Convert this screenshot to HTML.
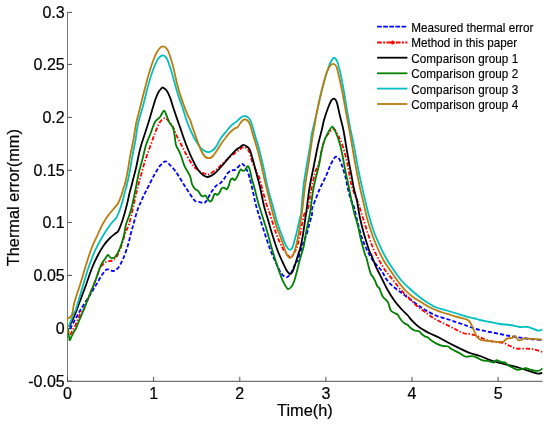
<!DOCTYPE html>
<html><head><meta charset="utf-8"><title>Thermal error</title>
<style>
html,body{margin:0;padding:0;background:#fff;}
body{width:550px;height:424px;overflow:hidden;}
svg{display:block;}
text{font-family:"Liberation Sans",sans-serif;fill:#000;}
.tk{font-size:16px;stroke:#000;stroke-width:0.2px;}
.lg{font-size:11.7px;stroke:#000;stroke-width:0.15px;}
.lb{font-size:16.35px;stroke:#000;stroke-width:0.2px;}
.c{fill:none;stroke-width:1.8;stroke-linejoin:round;stroke-linecap:butt;}
.l{fill:none;stroke-width:1.8;}
</style></head><body>
<svg width="550" height="424" viewBox="0 0 550 424">
<rect width="550" height="424" fill="#fff"/>

<g stroke="#505050" stroke-width="1" fill="none">
<path stroke="#787878" d="M67.5 11.93 V381.8"/>
<path d="M67.0 381.3 H542.6"/>
<path d="M67.5 381.3 v-4.5"/>
<path d="M153.6 381.3 v-4.5"/>
<path d="M239.8 381.3 v-4.5"/>
<path d="M325.9 381.3 v-4.5"/>
<path d="M412.0 381.3 v-4.5"/>
<path d="M498.1 381.3 v-4.5"/>
<path d="M67.5 381.1 h4.5"/>
<path d="M67.5 328.6 h4.5"/>
<path d="M67.5 275.4 h4.5"/>
<path d="M67.5 222.4 h4.5"/>
<path d="M67.5 170.3 h4.5"/>
<path d="M67.5 117.4 h4.5"/>
<path d="M67.5 64.4 h4.5"/>
<path d="M67.5 12.4 h4.5"/>
</g>
<text class="tk" x="67.5" y="398.7" text-anchor="middle">0</text>
<text class="tk" x="153.6" y="398.7" text-anchor="middle">1</text>
<text class="tk" x="239.8" y="398.7" text-anchor="middle">2</text>
<text class="tk" x="325.9" y="398.7" text-anchor="middle">3</text>
<text class="tk" x="412.0" y="398.7" text-anchor="middle">4</text>
<text class="tk" x="498.1" y="398.7" text-anchor="middle">5</text>
<text class="tk" x="64.7" y="386.9" text-anchor="end">-0.05</text>
<text class="tk" x="64.7" y="334.4" text-anchor="end">0</text>
<text class="tk" x="64.7" y="281.1" text-anchor="end">0.05</text>
<text class="tk" x="64.7" y="228.2" text-anchor="end">0.1</text>
<text class="tk" x="64.7" y="176.1" text-anchor="end">0.15</text>
<text class="tk" x="64.7" y="123.2" text-anchor="end">0.2</text>
<text class="tk" x="64.7" y="70.2" text-anchor="end">0.25</text>
<text class="tk" x="64.7" y="18.2" text-anchor="end">0.3</text>
<text class="lb" x="304.9" y="415.7" text-anchor="middle">Time(h)</text>
<text class="lb" transform="translate(18.5,197.7) rotate(-90)" text-anchor="middle">Thermal error(mm)</text>
<defs><clipPath id="cp"><rect x="67" y="11" width="475.6" height="371"/></clipPath></defs><g clip-path="url(#cp)">
<path class="c" stroke="#0000ff" stroke-dasharray="4.1 2.1" d="M70.0 329.0C70.7 327.8 72.7 324.0 74.0 321.6C75.3 319.2 76.8 316.5 78.0 314.4C79.2 312.3 79.0 312.2 81.0 309.0C83.0 305.8 87.5 299.0 90.0 295.0C92.5 291.0 94.0 288.3 96.0 285.0C98.0 281.7 100.2 277.6 102.0 275.0C103.8 272.4 105.2 270.1 107.0 269.4C108.8 268.7 111.2 271.2 113.0 271.0C114.8 270.8 116.3 270.0 118.0 268.0C119.7 266.0 121.3 262.8 123.0 259.0C124.7 255.2 126.7 249.3 128.0 245.0C129.3 240.7 130.1 236.4 131.0 233.0C131.9 229.6 132.3 228.3 133.4 224.5C134.5 220.7 136.0 214.4 137.5 210.0C139.0 205.6 140.7 202.3 142.5 198.3C144.3 194.3 146.5 190.1 148.6 186.0C150.7 181.9 152.8 177.5 154.8 174.0C156.8 170.5 158.7 167.3 160.5 165.2C162.3 163.1 164.0 161.4 165.6 161.4C167.2 161.4 168.3 163.2 170.0 165.0C171.7 166.8 174.0 169.2 176.0 172.0C178.0 174.8 180.0 178.3 182.0 181.5C184.0 184.7 185.8 187.8 188.0 191.0C190.2 194.2 193.1 199.1 195.0 200.9C196.9 202.7 198.0 201.6 199.4 202.0C200.8 202.4 202.5 203.3 203.7 203.1C204.9 202.9 205.6 202.1 206.5 200.9C207.4 199.7 208.2 197.7 209.2 196.0C210.2 194.3 211.2 192.2 212.4 190.5C213.6 188.8 215.0 186.8 216.3 185.6C217.6 184.4 218.8 184.5 220.1 183.4C221.4 182.3 222.6 180.8 223.9 179.1C225.2 177.4 226.4 174.5 227.7 173.1C229.0 171.7 230.2 170.9 231.5 170.4C232.8 169.9 234.1 170.5 235.3 169.8C236.5 169.2 237.5 167.5 238.6 166.5C239.7 165.5 240.9 163.9 241.9 163.8C242.9 163.7 243.7 164.8 244.6 166.0C245.5 167.2 246.5 169.0 247.3 170.9C248.1 172.8 248.8 174.9 249.5 177.4C250.2 179.9 251.0 183.1 251.7 186.2C252.4 189.3 253.3 193.5 253.9 196.0C254.5 198.5 254.2 198.2 255.0 201.4C255.8 204.7 257.5 210.6 259.0 215.5C260.5 220.4 262.2 225.4 264.0 231.0C265.8 236.6 268.0 243.7 270.0 249.0C272.0 254.3 274.2 259.0 276.0 263.0C277.8 267.0 279.3 270.6 281.0 273.0C282.7 275.4 284.7 277.4 286.4 277.4C288.1 277.4 289.4 275.6 291.0 273.0C292.6 270.4 294.9 264.0 296.0 262.0C297.1 260.0 296.8 262.9 297.6 260.9C298.4 258.9 299.8 253.3 300.9 250.0C302.0 246.7 303.0 243.7 304.0 241.0C305.0 238.3 306.0 236.8 306.9 233.8C307.8 230.8 308.8 226.1 309.6 222.9C310.5 219.7 311.6 216.8 312.0 214.5C312.4 212.2 311.2 211.9 312.0 209.0C312.8 206.1 315.1 200.7 316.5 197.0C317.9 193.3 319.1 190.3 320.6 187.0C322.1 183.7 324.1 180.3 325.6 177.0C327.1 173.7 328.3 170.0 329.6 167.0C330.9 164.0 332.4 160.9 333.5 159.2C334.6 157.5 335.2 156.7 336.2 156.7C337.2 156.7 338.2 157.3 339.3 159.0C340.4 160.7 341.5 164.0 342.5 167.0C343.5 170.0 344.7 173.7 345.5 177.0C346.3 180.3 346.8 183.7 347.5 187.0C348.2 190.3 349.1 194.0 350.0 197.0C350.9 200.0 352.3 203.3 353.0 205.0C353.7 206.7 353.3 204.5 354.0 207.0C354.7 209.5 355.7 214.8 357.0 220.0C358.3 225.2 360.2 232.7 362.0 238.0C363.8 243.3 366.0 248.0 368.0 252.0C370.0 256.0 371.8 259.0 374.0 262.0C376.2 265.0 378.8 267.0 381.0 270.0C383.2 273.0 384.7 277.0 387.0 280.0C389.3 283.0 392.3 285.7 395.0 288.0C397.7 290.3 400.3 292.0 403.0 294.0C405.7 296.0 408.3 298.0 411.0 300.0C413.7 302.0 416.3 304.2 419.0 306.0C421.7 307.8 424.0 309.3 427.0 311.0C430.0 312.7 433.7 314.7 437.0 316.0C440.3 317.3 443.7 317.9 447.0 319.0C450.3 320.1 454.0 321.5 457.0 322.5C460.0 323.5 462.8 324.2 465.0 325.0C467.2 325.8 467.5 326.2 470.0 327.0C472.5 327.8 476.7 329.2 480.0 330.0C483.3 330.8 486.7 331.3 490.0 332.0C493.3 332.7 496.7 333.3 500.0 334.0C503.3 334.7 506.7 335.4 510.0 336.0C513.3 336.6 516.7 337.1 520.0 337.6C523.3 338.1 526.3 338.6 530.0 339.0C533.7 339.4 540.3 339.8 542.4 340.0"/>
<path class="c" stroke="#ff0000" stroke-dasharray="4.4 1.8 1.4 1.8" d="M70.4 335.0C70.7 334.2 71.5 332.1 72.4 330.4C73.3 328.7 74.5 326.9 75.6 324.8C76.7 322.7 77.9 319.7 78.8 317.6C79.7 315.5 79.9 313.4 80.8 312.0C81.7 310.6 82.5 312.0 84.0 309.0C85.5 306.0 88.0 299.0 90.0 294.0C92.0 289.0 94.3 283.3 96.0 279.0C97.7 274.7 98.3 270.8 100.0 268.0C101.7 265.2 104.0 263.2 106.0 262.0C108.0 260.8 110.2 261.6 112.0 260.6C113.8 259.6 115.5 258.3 117.0 256.0C118.5 253.7 119.7 250.7 121.0 247.0C122.3 243.3 123.7 237.8 125.0 234.0C126.3 230.2 127.7 228.3 129.0 224.0C130.3 219.7 131.7 213.7 133.0 208.0C134.3 202.3 135.8 194.8 137.0 190.0C138.2 185.2 138.7 183.8 140.0 179.0C141.3 174.2 143.3 166.3 145.0 161.0C146.7 155.7 148.3 151.7 150.0 147.0C151.7 142.3 153.3 137.2 155.0 133.0C156.7 128.8 158.3 124.5 160.0 122.0C161.7 119.5 163.6 118.2 165.0 118.0C166.4 117.8 167.4 119.8 168.6 121.0C169.8 122.2 171.1 124.2 171.9 125.3C172.7 126.4 172.5 125.8 173.3 127.5C174.1 129.2 175.2 132.6 176.5 135.3C177.8 138.1 179.4 141.1 180.9 144.0C182.4 146.9 183.9 150.0 185.3 152.7C186.8 155.4 188.4 158.3 189.6 160.3C190.8 162.3 191.5 163.4 192.4 164.7C193.3 165.9 193.7 166.7 195.0 167.8C196.3 168.9 198.4 170.5 200.0 171.5C201.6 172.5 203.4 173.1 204.8 173.6C206.2 174.1 207.2 174.8 208.6 174.4C210.0 174.1 211.9 172.5 213.5 171.5C215.1 170.5 216.6 169.4 218.0 168.2C219.4 166.9 220.2 165.7 222.0 164.0C223.8 162.3 226.7 159.8 229.0 157.8C231.3 155.9 234.2 153.7 236.0 152.3C237.8 150.9 238.8 150.2 240.0 149.3C241.2 148.5 242.3 147.3 243.5 147.2C244.7 147.1 246.0 147.6 247.0 148.5C248.0 149.4 248.9 151.1 249.5 152.5C250.1 153.9 250.2 155.2 250.8 157.0C251.4 158.8 251.9 161.2 252.8 163.4C253.7 165.7 255.0 168.3 256.0 170.5C257.0 172.7 257.9 173.6 259.0 176.8C260.1 180.1 261.2 185.1 262.5 190.0C263.8 194.9 265.9 202.3 267.0 206.0C268.1 209.7 267.8 207.5 269.3 212.0C270.8 216.5 273.9 227.2 276.0 233.0C278.1 238.8 280.3 243.7 282.0 247.0C283.7 250.3 284.7 251.3 286.0 253.0C287.3 254.7 288.7 257.0 290.0 257.0C291.3 257.0 292.8 254.7 294.0 253.0C295.2 251.3 296.0 250.0 297.0 247.0C298.0 244.0 298.8 240.3 300.0 235.0C301.2 229.7 302.7 219.3 304.0 215.0C305.3 210.7 306.8 213.0 308.0 209.0C309.2 205.0 309.8 197.0 311.0 191.0C312.2 185.0 313.7 177.7 315.0 173.0C316.3 168.3 317.8 167.0 319.0 163.0C320.2 159.0 321.0 153.0 322.0 149.0C323.0 145.0 323.8 141.7 325.0 139.0C326.2 136.3 327.5 134.7 329.0 133.0C330.5 131.3 332.3 128.3 334.0 129.0C335.7 129.7 337.5 134.0 339.0 137.0C340.5 140.0 341.8 143.2 343.0 147.0C344.2 150.8 345.6 156.0 346.5 160.0C347.4 164.0 347.9 166.8 348.7 171.0C349.5 175.2 350.4 181.2 351.4 185.0C352.4 188.8 353.6 191.5 354.5 194.0C355.4 196.5 356.3 198.3 357.0 200.0C357.7 201.7 357.6 201.0 358.6 204.0C359.6 207.0 361.4 213.0 363.0 218.0C364.6 223.0 366.3 229.0 368.0 234.0C369.7 239.0 371.2 243.7 373.0 248.0C374.8 252.3 377.0 256.3 379.0 260.0C381.0 263.7 382.7 266.7 385.0 270.0C387.3 273.3 390.3 276.7 393.0 280.0C395.7 283.3 398.3 287.0 401.0 290.0C403.7 293.0 406.3 295.3 409.0 298.0C411.7 300.7 414.3 303.7 417.0 306.0C419.7 308.3 422.0 309.8 425.0 312.0C428.0 314.2 431.7 317.0 435.0 319.0C438.3 321.0 441.7 322.3 445.0 324.0C448.3 325.7 452.0 327.5 455.0 329.0C458.0 330.5 459.8 332.0 463.0 333.0C466.2 334.0 470.5 334.0 474.0 335.0C477.5 336.0 481.0 337.9 484.0 339.0C487.0 340.1 488.7 340.7 492.0 341.4C495.3 342.1 501.0 342.2 504.0 343.0C507.0 343.8 508.0 345.1 510.0 346.0C512.0 346.9 513.3 348.2 516.0 348.6C518.7 349.0 523.0 348.5 526.0 348.6C529.0 348.7 531.3 348.8 534.0 349.4C536.7 350.0 541.0 351.6 542.4 352.0"/>
<path class="c" stroke="#000000" d="M69.0 327.0C69.7 325.7 71.8 321.5 73.0 319.0C74.2 316.5 74.8 315.0 76.0 312.0C77.2 309.0 78.3 305.5 80.0 301.0C81.7 296.5 84.0 290.5 86.0 285.0C88.0 279.5 90.0 273.0 92.0 268.0C94.0 263.0 96.0 258.8 98.0 255.0C100.0 251.2 102.0 247.8 104.0 245.0C106.0 242.2 108.0 240.0 110.0 238.0C112.0 236.0 114.6 234.2 116.0 233.0C117.4 231.8 117.4 232.8 118.4 230.8C119.5 228.8 121.1 224.4 122.3 221.0C123.5 217.6 124.6 213.4 125.5 210.1C126.4 206.8 127.0 204.5 127.7 201.4C128.4 198.3 129.2 194.2 129.9 191.5C130.6 188.8 131.0 187.7 131.6 185.5C132.2 183.3 132.6 181.2 133.4 178.2C134.2 175.2 135.3 171.3 136.2 167.3C137.1 163.3 138.0 158.1 138.9 154.2C139.8 150.3 140.3 147.9 141.5 144.0C142.7 140.1 144.4 135.1 145.9 130.5C147.4 125.9 148.8 121.5 150.3 116.4C151.9 111.3 153.8 104.0 155.2 100.0C156.6 96.0 157.5 94.1 158.5 92.2C159.5 90.3 160.2 89.6 161.0 88.8C161.8 88.0 162.0 87.2 163.0 87.6C164.0 88.0 165.8 89.2 167.0 91.0C168.2 92.8 169.3 95.5 170.3 98.1C171.3 100.7 172.0 103.7 173.0 106.8C174.0 109.9 175.3 113.7 176.3 116.6C177.3 119.5 178.2 122.1 179.0 124.3C179.8 126.5 180.1 127.3 181.0 130.0C181.9 132.7 183.4 137.3 184.7 140.7C185.9 144.1 187.2 147.4 188.5 150.5C189.8 153.6 191.2 156.8 192.4 159.3C193.6 161.9 194.5 163.9 195.6 165.8C196.7 167.8 197.8 169.5 199.0 171.0C200.2 172.5 201.5 174.0 203.0 175.0C204.5 176.0 206.2 177.2 208.0 177.0C209.8 176.8 212.0 175.5 214.0 174.0C216.0 172.5 218.0 170.2 220.0 168.0C222.0 165.8 224.0 163.3 226.0 161.0C228.0 158.7 230.3 155.8 232.0 154.0C233.7 152.2 234.6 151.2 236.0 150.0C237.4 148.8 239.1 147.9 240.3 147.0C241.5 146.1 242.2 144.9 243.3 144.8C244.4 144.7 245.8 145.8 246.8 146.5C247.8 147.2 248.7 147.7 249.5 149.2C250.3 150.7 251.0 153.3 251.7 155.7C252.4 158.1 253.2 160.7 253.9 163.4C254.6 166.1 255.4 169.3 256.1 172.1C256.8 174.9 257.5 177.1 258.3 180.3C259.1 183.5 260.1 187.2 261.0 191.5C261.9 195.8 262.9 201.6 264.0 206.0C265.1 210.4 266.2 213.7 267.5 218.0C268.8 222.3 269.9 226.8 271.5 232.0C273.1 237.2 275.1 243.8 277.0 249.0C278.9 254.2 281.3 259.3 283.0 263.0C284.7 266.7 285.8 269.2 287.0 271.0C288.2 272.8 289.1 273.8 290.0 274.0C290.9 274.2 291.4 273.8 292.2 272.4C293.0 270.9 294.0 267.8 294.9 265.3C295.8 262.8 296.4 260.1 297.3 257.2C298.2 254.3 299.3 251.9 300.3 248.0C301.3 244.1 302.4 238.0 303.1 233.8C303.8 229.6 304.2 226.5 304.7 222.9C305.2 219.3 305.9 214.8 306.3 212.0C306.7 209.2 306.4 210.5 307.0 206.0C307.6 201.5 308.8 191.8 310.0 185.0C311.2 178.2 312.7 171.7 314.0 165.0C315.3 158.3 316.7 151.0 318.0 145.0C319.3 139.0 321.0 133.2 322.0 129.0C323.0 124.8 323.0 123.5 324.0 120.0C325.0 116.5 326.8 111.2 328.0 108.0C329.2 104.8 330.2 102.5 331.0 101.0C331.8 99.5 332.0 99.7 332.5 99.3C333.0 98.9 333.5 98.5 334.0 98.6C334.5 98.7 335.0 99.1 335.5 99.8C336.0 100.5 336.2 100.3 337.0 103.0C337.8 105.7 339.0 111.8 340.0 116.0C341.0 120.2 342.2 124.2 343.0 128.0C343.8 131.8 344.2 134.2 345.0 139.0C345.8 143.8 347.0 151.3 348.0 157.0C349.0 162.7 350.0 167.7 351.0 173.0C352.0 178.3 353.0 184.3 354.0 189.0C355.0 193.7 356.0 196.2 357.0 201.0C358.0 205.8 358.8 212.5 360.0 218.0C361.2 223.5 362.5 228.7 364.0 234.0C365.5 239.3 367.8 246.4 369.0 250.0C370.2 253.6 370.4 252.5 371.5 255.3C372.6 258.1 374.3 263.0 375.9 266.6C377.5 270.2 379.2 273.2 381.0 276.8C382.8 280.4 384.6 284.6 386.8 288.5C389.0 292.4 391.7 296.9 394.1 300.3C396.5 303.7 399.1 306.5 401.4 309.0C403.7 311.5 406.3 313.8 407.9 315.5C409.5 317.2 409.1 317.6 411.0 319.5C412.9 321.4 416.0 324.8 419.0 327.0C422.0 329.2 425.7 331.2 429.0 333.0C432.3 334.8 435.7 335.8 439.0 337.5C442.3 339.2 445.7 341.2 449.0 343.0C452.3 344.8 455.5 346.3 459.0 348.0C462.5 349.7 466.5 351.7 470.0 353.0C473.5 354.3 476.7 354.8 480.0 356.0C483.3 357.2 486.7 358.8 490.0 360.0C493.3 361.2 496.7 362.1 500.0 363.0C503.3 363.9 506.7 364.6 510.0 365.4C513.3 366.2 516.7 367.0 520.0 368.0C523.3 369.0 527.0 370.5 530.0 371.4C533.0 372.3 535.9 373.4 538.0 373.6C540.1 373.8 541.7 372.8 542.4 372.6"/>
<path class="c" stroke="#008000" d="M68.0 328.0C68.3 330.0 69.0 338.4 69.6 339.8C70.2 341.2 70.8 337.8 71.5 336.5C72.2 335.2 73.0 333.4 73.8 332.0C74.6 330.6 75.3 329.9 76.2 328.0C77.1 326.1 78.1 323.1 79.2 320.4C80.3 317.7 82.0 313.9 82.8 312.0C83.6 310.1 82.8 312.0 84.0 309.0C85.2 306.0 88.0 299.0 90.0 294.0C92.0 289.0 94.2 283.8 96.0 279.0C97.8 274.2 99.5 268.3 101.0 265.0C102.5 261.7 103.8 260.7 105.0 259.0C106.2 257.3 107.0 255.2 108.0 255.0C109.0 254.8 109.8 257.7 111.0 258.0C112.2 258.3 113.5 258.7 115.0 257.0C116.5 255.3 118.5 251.7 120.0 248.0C121.5 244.3 123.0 238.9 124.0 235.0C125.0 231.1 124.8 228.7 126.0 224.5C127.2 220.3 129.5 215.4 131.0 210.0C132.5 204.6 133.7 198.3 135.0 192.0C136.3 185.7 137.8 177.2 139.0 172.0C140.2 166.8 140.8 165.5 142.0 161.0C143.2 156.5 144.7 149.3 146.0 145.0C147.3 140.7 148.5 138.8 150.0 135.0C151.5 131.2 153.3 125.0 155.0 122.0C156.7 119.0 158.5 118.9 160.0 117.0C161.5 115.1 162.9 110.8 164.0 110.6C165.1 110.3 165.6 113.6 166.5 115.5C167.4 117.4 168.4 120.4 169.2 122.1C170.0 123.8 170.8 124.4 171.5 125.5C172.2 126.6 172.7 126.7 173.3 128.7C173.9 130.7 174.5 134.7 174.9 137.4C175.3 140.1 175.3 142.6 176.0 145.0C176.7 147.4 178.4 149.6 179.3 151.6C180.2 153.6 180.8 155.0 181.5 157.0C182.2 159.0 182.9 161.8 183.6 163.6C184.3 165.4 184.4 165.9 185.5 168.0C186.6 170.1 188.9 173.3 190.0 176.0C191.1 178.7 191.2 181.8 192.0 184.0C192.8 186.2 193.9 187.7 195.0 188.9C196.1 190.1 197.3 190.0 198.3 191.1C199.3 192.2 200.2 194.5 201.0 195.4C201.8 196.3 202.5 196.5 203.2 196.5C203.9 196.5 204.7 195.0 205.4 195.4C206.1 195.8 206.8 197.7 207.5 198.7C208.2 199.7 209.0 201.1 209.7 201.4C210.4 201.7 211.1 201.6 211.9 200.3C212.7 199.0 213.7 194.7 214.6 193.8C215.5 192.9 216.6 195.1 217.4 194.9C218.2 194.7 218.8 193.8 219.5 192.7C220.2 191.6 220.9 189.2 221.7 188.4C222.5 187.6 223.6 187.6 224.4 187.8C225.2 188.0 225.9 189.8 226.6 189.4C227.3 189.0 228.2 187.1 228.8 185.6C229.4 184.1 229.8 181.4 230.4 180.2C231.0 179.0 231.9 178.5 232.6 178.5C233.3 178.5 234.1 180.5 234.8 180.2C235.5 179.9 236.3 178.3 237.0 176.9C237.7 175.5 238.6 173.3 239.2 172.0C239.8 170.7 240.2 169.5 240.8 169.3C241.4 169.1 242.3 170.8 243.0 170.9C243.7 171.0 244.6 170.4 245.2 169.8C245.8 169.2 246.3 167.7 246.8 167.1C247.3 166.5 247.9 165.9 248.4 166.5C248.9 167.1 249.6 168.9 250.1 170.9C250.6 172.9 251.1 176.0 251.7 178.5C252.3 181.0 252.8 181.9 253.9 185.8C255.0 189.7 256.6 197.1 258.0 202.0C259.4 206.9 260.5 210.2 262.0 215.0C263.5 219.8 265.3 225.3 267.0 231.0C268.7 236.7 270.3 243.3 272.0 249.0C273.7 254.7 275.3 260.0 277.0 265.0C278.7 270.0 280.7 275.7 282.0 279.0C283.3 282.3 284.0 283.3 285.0 285.0C286.0 286.7 286.9 288.8 288.0 289.0C289.1 289.2 290.5 287.9 291.6 286.5C292.7 285.1 293.5 283.1 294.4 280.5C295.3 277.9 296.2 274.1 297.1 270.7C298.0 267.2 298.7 263.8 299.8 259.8C300.9 255.8 302.6 251.2 303.6 246.9C304.6 242.6 305.1 237.8 305.8 233.8C306.5 229.8 307.3 226.5 308.0 222.9C308.7 219.3 309.4 217.3 310.2 212.0C311.0 206.7 312.0 196.8 313.0 191.0C314.0 185.2 315.0 181.3 316.0 177.0C317.0 172.7 318.0 169.7 319.0 165.0C320.0 160.3 321.0 153.3 322.0 149.0C323.0 144.7 323.8 142.0 325.0 139.0C326.2 136.0 327.8 133.1 329.0 131.0C330.2 128.9 331.2 126.3 332.4 126.6C333.6 126.9 334.9 130.6 336.0 133.0C337.1 135.4 338.0 137.7 339.0 141.0C340.0 144.3 341.0 148.3 342.0 153.0C343.0 157.7 344.0 164.0 345.0 169.0C346.0 174.0 347.0 178.2 348.0 183.0C349.0 187.8 350.0 193.2 351.0 198.0C352.0 202.8 352.8 207.3 354.0 212.0C355.2 216.7 356.8 221.3 358.0 226.0C359.2 230.7 359.8 235.2 361.0 240.0C362.2 244.8 364.1 251.5 365.0 254.5C365.9 257.5 365.9 255.9 366.5 257.9C367.1 259.9 367.9 263.8 368.6 266.5C369.3 269.2 370.1 272.1 370.8 273.9C371.5 275.6 372.3 275.8 373.0 277.0C373.7 278.2 374.5 279.7 375.2 281.2C375.9 282.7 376.5 284.8 377.2 286.0C377.9 287.2 378.8 287.3 379.5 288.5C380.2 289.7 380.6 291.8 381.2 293.2C381.8 294.6 382.4 296.1 383.2 297.2C384.0 298.3 385.1 298.8 386.0 299.8C386.9 300.8 387.7 301.6 388.3 303.0C388.9 304.4 389.3 306.7 389.8 308.0C390.3 309.3 390.5 310.2 391.2 311.0C391.9 311.8 392.9 312.1 394.0 312.7C395.1 313.3 396.9 313.9 397.7 314.6C398.5 315.3 398.4 315.9 399.0 316.9C399.6 317.9 400.6 319.4 401.5 320.5C402.4 321.6 403.5 322.6 404.5 323.3C405.5 324.0 406.5 324.1 407.5 324.8C408.5 325.6 409.2 326.9 410.4 327.8C411.6 328.8 413.2 329.9 414.7 330.5C416.1 331.1 417.9 330.7 419.1 331.3C420.3 331.9 421.0 333.5 422.0 334.3C423.0 335.1 423.9 335.9 424.9 336.4C425.9 336.9 427.0 336.8 428.0 337.4C429.0 338.0 429.3 339.0 430.7 340.0C432.1 341.0 434.6 342.6 436.5 343.6C438.4 344.6 440.4 345.3 442.4 345.8C444.3 346.3 446.8 346.0 448.2 346.5C449.6 347.0 449.9 348.1 451.0 348.8C452.1 349.5 453.5 350.1 455.0 350.9C456.5 351.7 458.5 352.6 460.2 353.5C461.9 354.4 463.4 356.2 465.4 356.6C467.4 357.0 470.3 355.9 472.3 356.1C474.3 356.3 475.8 357.2 477.5 357.9C479.2 358.6 480.6 359.8 482.6 360.4C484.6 361.0 487.6 360.9 489.5 361.3C491.4 361.7 492.7 362.7 493.9 362.5C495.1 362.3 495.2 360.2 496.5 360.1C497.8 360.1 500.2 361.8 501.6 362.2C503.0 362.6 504.0 361.9 505.1 362.5C506.2 363.1 507.1 364.7 508.5 365.6C509.9 366.6 512.1 367.5 513.7 368.2C515.3 368.9 516.7 369.8 518.0 369.9C519.3 370.0 520.2 369.4 521.5 369.1C522.8 368.8 524.2 368.1 525.8 368.2C527.4 368.3 529.3 369.6 531.0 370.0C532.7 370.4 534.8 370.7 536.2 370.8C537.6 370.9 538.5 370.9 539.6 370.5C540.7 370.1 542.2 368.6 542.7 368.2"/>
<path class="c" stroke="#00bfbf" d="M68.4 327.0C68.8 326.0 69.9 323.3 70.8 321.0C71.7 318.7 73.1 315.0 74.0 313.0C74.9 311.0 74.7 313.0 76.0 309.0C77.3 305.0 80.0 295.7 82.0 289.0C84.0 282.3 86.0 275.0 88.0 269.0C90.0 263.0 92.0 257.7 94.0 253.0C96.0 248.3 98.0 244.7 100.0 241.0C102.0 237.3 104.0 234.0 105.9 231.0C107.8 228.0 109.7 225.4 111.4 223.2C113.1 221.0 114.8 220.1 116.3 217.7C117.8 215.3 119.0 211.9 120.1 209.0C121.2 206.1 122.0 203.2 122.8 200.3C123.6 197.4 124.3 194.0 125.0 191.5C125.7 189.0 126.0 188.6 126.7 185.5C127.5 182.4 128.6 177.5 129.5 172.7C130.4 167.8 131.3 161.8 132.3 156.4C133.3 151.0 134.6 145.4 135.5 140.0C136.4 134.6 136.8 129.7 138.0 124.0C139.2 118.3 141.3 112.3 143.0 106.0C144.7 99.7 146.3 92.0 148.0 86.0C149.7 80.0 151.3 74.5 153.0 70.0C154.7 65.5 156.3 61.4 158.0 59.0C159.7 56.6 161.5 55.4 163.0 55.4C164.5 55.4 165.7 56.6 167.0 59.0C168.3 61.4 169.6 65.7 171.0 70.0C172.4 74.3 174.0 80.7 175.2 85.0C176.4 89.3 177.2 92.3 178.4 95.9C179.6 99.5 181.0 102.9 182.3 106.8C183.6 110.7 184.9 115.6 186.2 119.3C187.5 123.0 188.6 126.0 190.0 129.2C191.4 132.4 192.9 135.7 194.5 138.5C196.1 141.3 197.8 144.2 199.4 146.2C201.0 148.2 202.2 149.5 203.8 150.5C205.4 151.5 207.1 152.3 208.7 152.2C210.2 152.1 211.7 151.1 213.1 150.0C214.5 148.9 215.7 147.5 216.9 145.6C218.1 143.7 219.0 141.0 220.5 138.7C222.0 136.4 224.0 134.0 225.8 131.8C227.6 129.6 229.6 127.1 231.4 125.4C233.2 123.7 235.2 122.8 236.8 121.4C238.4 120.1 240.0 118.2 241.2 117.3C242.4 116.4 242.9 116.3 243.9 116.2C244.9 116.1 246.1 116.1 247.2 116.8C248.3 117.5 249.5 118.6 250.4 120.3C251.3 122.0 251.9 124.4 252.6 126.8C253.3 129.2 254.1 131.8 254.8 134.4C255.5 137.0 256.4 140.2 257.0 142.1C257.6 144.0 257.6 143.1 258.3 145.9C259.1 148.7 260.5 154.8 261.5 159.0C262.5 163.2 263.5 167.4 264.3 171.0C265.1 174.6 265.4 177.3 266.2 180.8C267.0 184.3 267.7 187.4 268.9 192.0C270.1 196.6 272.1 203.3 273.5 208.5C274.9 213.7 276.1 218.7 277.4 222.9C278.7 227.1 280.0 230.4 281.3 233.8C282.6 237.2 284.0 241.2 285.1 243.6C286.2 246.0 287.0 247.5 287.8 248.5C288.6 249.5 289.3 249.7 290.0 249.6C290.7 249.5 291.4 249.7 292.2 248.0C293.0 246.3 294.0 242.6 294.9 239.3C295.8 236.0 296.8 231.9 297.6 228.4C298.4 224.9 299.2 221.2 299.8 218.5C300.4 215.8 300.6 217.6 301.2 212.0C301.8 206.4 302.6 193.5 303.6 185.0C304.7 176.5 306.3 168.0 307.5 161.0C308.7 154.0 309.9 147.5 310.6 143.0C311.3 138.5 310.9 138.5 311.8 134.0C312.7 129.5 314.6 122.0 316.0 116.0C317.4 110.0 318.7 103.7 320.0 98.0C321.3 92.3 322.5 87.3 324.0 82.0C325.5 76.7 327.7 69.7 329.0 66.0C330.3 62.3 331.1 61.4 332.0 60.0C332.9 58.6 333.4 57.8 334.1 57.7C334.8 57.6 335.4 58.8 336.0 59.5C336.6 60.2 336.8 60.3 337.4 62.0C338.0 63.7 338.9 67.3 339.5 69.6C340.1 71.9 340.2 72.3 341.0 76.0C341.8 79.7 343.0 86.3 344.0 92.0C345.0 97.7 346.0 104.2 347.0 110.0C348.0 115.8 349.0 121.8 350.0 127.0C351.0 132.2 352.0 136.0 353.0 141.0C354.0 146.0 355.0 151.7 356.0 157.0C357.0 162.3 358.0 168.0 359.0 173.0C360.0 178.0 361.0 182.6 362.0 187.0C363.0 191.4 363.8 194.7 365.0 199.5C366.2 204.3 367.5 210.6 369.0 216.0C370.5 221.4 372.2 227.0 374.0 232.0C375.8 237.0 378.0 241.7 380.0 246.0C382.0 250.3 383.8 254.2 386.0 258.0C388.2 261.8 390.5 265.3 393.0 269.0C395.5 272.7 398.3 276.8 401.0 280.0C403.7 283.2 406.3 285.5 409.0 288.0C411.7 290.5 414.3 292.8 417.0 295.0C419.7 297.2 422.0 299.0 425.0 301.0C428.0 303.0 431.7 305.5 435.0 307.0C438.3 308.5 441.7 309.0 445.0 310.0C448.3 311.0 451.7 312.0 455.0 313.0C458.3 314.0 461.7 315.3 465.0 316.2C468.3 317.1 472.5 317.9 475.0 318.5C477.5 319.1 477.5 319.4 480.0 320.0C482.5 320.6 486.7 321.3 490.0 322.0C493.3 322.7 496.7 323.5 500.0 324.0C503.3 324.5 506.7 324.5 510.0 325.0C513.3 325.5 517.0 326.7 520.0 327.0C523.0 327.3 525.0 326.4 528.0 327.0C531.0 327.6 535.6 330.2 538.0 330.6C540.4 331.0 541.7 329.6 542.4 329.4"/>
<path class="c" stroke="#b97d0e" d="M67.3 334.0C67.3 331.6 66.9 322.2 67.3 319.5C67.7 316.8 68.6 318.6 69.4 317.8C70.2 317.0 71.2 316.8 72.0 314.5C72.8 312.2 73.3 306.9 74.0 304.0C74.7 301.1 75.0 300.2 76.0 297.0C77.0 293.8 78.3 290.3 80.0 285.0C81.7 279.7 84.0 271.3 86.0 265.0C88.0 258.7 90.0 252.2 92.0 247.0C94.0 241.8 96.8 236.7 98.0 234.0C99.2 231.3 98.6 232.4 99.4 230.8C100.2 229.2 101.1 226.9 102.6 224.3C104.0 221.8 106.3 218.1 108.1 215.5C109.9 212.9 111.9 211.0 113.5 209.0C115.1 207.0 116.6 205.7 117.9 203.5C119.2 201.3 120.3 198.4 121.2 195.9C122.1 193.4 122.8 190.1 123.4 188.3C124.0 186.5 124.0 187.6 124.7 185.0C125.4 182.4 126.5 177.5 127.4 172.7C128.3 167.9 129.1 161.8 130.1 156.4C131.1 151.0 132.4 145.4 133.4 140.0C134.4 134.6 134.9 129.3 136.0 124.0C137.1 118.7 138.5 114.0 140.0 108.0C141.5 102.0 143.3 94.3 145.0 88.0C146.7 81.7 148.3 75.3 150.0 70.0C151.7 64.7 153.5 59.5 155.0 56.0C156.5 52.5 157.7 50.6 159.0 49.0C160.3 47.4 161.7 46.4 163.0 46.4C164.3 46.4 165.8 47.4 167.0 49.0C168.2 50.6 169.0 53.2 170.0 56.0C171.0 58.8 171.8 61.2 173.0 66.0C174.2 70.8 176.1 80.0 177.4 85.0C178.7 90.0 179.4 92.3 180.6 95.9C181.8 99.5 183.1 103.3 184.4 106.8C185.7 110.2 187.3 114.4 188.3 116.6C189.3 118.8 189.3 117.8 190.2 120.0C191.0 122.2 192.2 126.4 193.4 129.8C194.6 133.2 196.0 137.2 197.3 140.7C198.6 144.1 199.8 147.9 201.1 150.5C202.4 153.1 203.6 155.2 204.9 156.5C206.2 157.8 207.4 158.2 208.7 158.2C210.0 158.2 211.1 157.8 212.5 156.5C213.9 155.2 215.4 152.7 216.9 150.5C218.4 148.3 219.9 145.7 221.4 143.5C222.9 141.3 224.3 139.4 225.8 137.5C227.3 135.6 228.8 133.7 230.3 132.2C231.8 130.7 233.4 129.2 234.6 128.4C235.8 127.6 236.5 128.2 237.4 127.4C238.3 126.6 239.2 124.7 240.1 123.5C241.0 122.3 241.9 121.0 242.8 120.3C243.7 119.6 244.6 119.3 245.5 119.5C246.4 119.7 247.5 120.4 248.3 121.4C249.1 122.4 249.7 123.7 250.4 125.7C251.1 127.7 251.9 131.0 252.6 133.4C253.3 135.8 253.9 137.8 254.6 140.0C255.3 142.2 255.7 143.3 256.6 146.5C257.5 149.7 258.9 154.9 259.9 159.0C260.9 163.1 261.8 167.4 262.6 171.0C263.4 174.6 263.9 177.0 264.8 180.8C265.7 184.6 266.7 188.8 268.0 194.0C269.3 199.2 271.1 206.6 272.5 212.0C273.9 217.4 275.3 222.7 276.4 226.2C277.5 229.7 277.7 229.5 279.0 233.0C280.3 236.5 282.7 243.3 284.0 247.0C285.3 250.7 286.0 253.2 287.0 255.0C288.0 256.8 288.8 258.3 290.0 258.0C291.2 257.7 292.7 256.5 294.0 253.0C295.3 249.5 296.7 243.8 298.0 237.0C299.3 230.2 300.8 220.7 302.0 212.0C303.2 203.3 304.0 193.5 305.2 185.0C306.4 176.5 307.9 168.7 309.0 161.0C310.1 153.3 311.2 145.0 312.1 139.0C313.1 133.0 314.0 128.8 314.7 125.0C315.4 121.2 315.2 120.9 316.1 116.0C317.1 111.1 319.1 101.3 320.4 95.8C321.7 90.2 322.6 86.7 323.7 82.7C324.8 78.7 325.9 74.7 327.0 71.8C328.1 68.9 329.2 66.9 330.3 65.6C331.4 64.3 332.3 63.7 333.3 63.8C334.3 63.9 335.5 64.7 336.3 66.4C337.1 68.1 337.7 71.1 338.4 74.0C339.1 76.9 339.9 80.3 340.6 83.8C341.3 87.2 341.9 90.0 342.8 94.7C343.7 99.4 345.0 106.5 346.0 112.0C347.0 117.5 348.2 123.5 349.0 128.0C349.8 132.5 350.2 134.2 351.0 139.0C351.8 143.8 353.0 151.3 354.0 157.0C355.0 162.7 356.0 167.8 357.0 173.0C358.0 178.2 359.0 183.4 360.0 188.0C361.0 192.6 361.8 195.5 363.0 200.5C364.2 205.5 365.5 212.4 367.0 218.0C368.5 223.6 370.2 228.8 372.0 234.0C373.8 239.2 376.0 244.5 378.0 249.0C380.0 253.5 382.0 257.5 384.0 261.0C386.0 264.5 387.8 266.8 390.0 270.0C392.2 273.2 394.5 276.7 397.0 280.0C399.5 283.3 402.3 287.2 405.0 290.0C407.7 292.8 410.3 295.0 413.0 297.0C415.7 299.0 418.0 300.2 421.0 302.0C424.0 303.8 427.7 306.3 431.0 308.0C434.3 309.7 437.7 310.8 441.0 312.0C444.3 313.2 448.7 314.3 451.0 315.0C453.3 315.7 453.5 315.9 455.0 316.4C456.5 316.8 458.3 317.3 460.0 317.7C461.7 318.1 463.8 318.4 465.4 319.0C467.0 319.6 468.4 320.0 469.7 321.6C471.0 323.2 472.0 326.1 473.1 328.5C474.2 330.9 475.3 334.4 476.6 336.3C477.9 338.2 478.8 339.2 480.9 340.0C483.0 340.8 486.6 340.8 489.5 341.1C492.4 341.4 495.9 341.7 498.2 341.8C500.5 341.9 502.0 342.0 503.4 341.5C504.8 341.0 505.4 339.2 506.8 338.6C508.2 338.0 510.6 338.4 512.0 338.0C513.4 337.6 514.1 335.6 515.1 335.9C516.1 336.2 516.9 339.3 518.0 340.0C519.1 340.7 520.5 340.3 521.5 340.0C522.5 339.7 522.2 338.6 524.1 338.4C526.0 338.2 529.6 338.7 532.7 338.9C535.8 339.1 541.0 339.6 542.7 339.7"/>
</g>
<path class="l" stroke="#0000ff" stroke-dasharray="4.7 1.4" d="M377.1 26.6 H407.4"/>
<text class="lg" transform="translate(411.2,31.5) scale(1,1.06)">Measured thermal error</text>
<path class="l" stroke="#ff0000" stroke-dasharray="4.7 1.4 1.9 1.4" d="M377.1 42.5 H407.4"/>
<text class="lg" transform="translate(411.2,47.4) scale(1,1.06)">Method in this paper</text>
<path class="l" stroke="#000000"  d="M377.1 57.7 H407.4"/>
<text class="lg" letter-spacing="0.06" transform="translate(411.2,62.6) scale(1,1.06)">Comparison group 1</text>
<path class="l" stroke="#008000"  d="M377.1 73.3 H407.4"/>
<text class="lg" letter-spacing="0.06" transform="translate(411.2,78.2) scale(1,1.06)">Comparison group 2</text>
<path class="l" stroke="#00bfbf"  d="M377.1 88.6 H407.4"/>
<text class="lg" letter-spacing="0.06" transform="translate(411.2,93.5) scale(1,1.06)">Comparison group 3</text>
<path class="l" stroke="#b97d0e"  d="M377.1 104.0 H407.4"/>
<text class="lg" letter-spacing="0.06" transform="translate(411.2,108.9) scale(1,1.06)">Comparison group 4</text>
<circle cx="392.7" cy="42.5" r="1.9" fill="#ff0000"/>
</svg></body></html>
